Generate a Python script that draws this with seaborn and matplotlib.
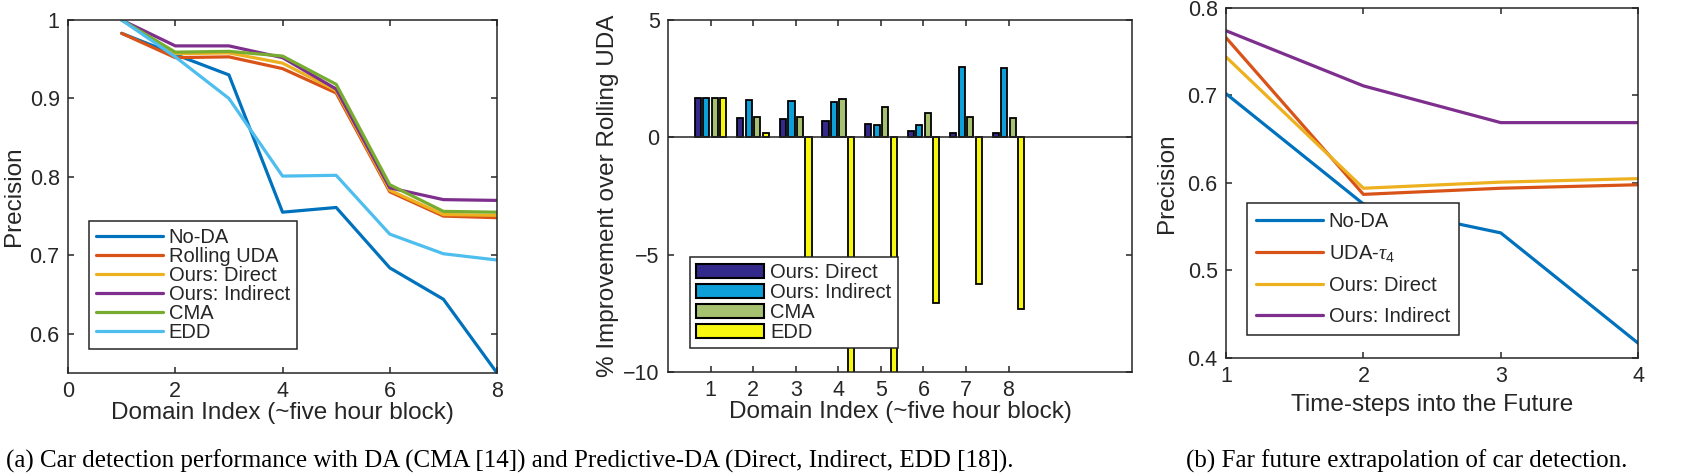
import numpy as np
import pandas as pd
import seaborn as sns
import matplotlib.pyplot as plt

# ---- data ----
domain_idx = [1, 2, 3, 4, 5, 6, 7, 8]
no_da = [0.983, 0.956, 0.930, 0.755, 0.761, 0.684, 0.644, 0.550]
rolling_uda = [0.983, 0.952, 0.953, 0.938, 0.907, 0.781, 0.750, 0.748]
ours_direct = [1.000, 0.957, 0.958, 0.945, 0.910, 0.783, 0.752, 0.751]
ours_indirect = [1.000, 0.967, 0.967, 0.952, 0.912, 0.786, 0.771, 0.770]
cma = [1.000, 0.959, 0.960, 0.954, 0.918, 0.790, 0.756, 0.755]
edd = [1.000, 0.953, 0.900, 0.801, 0.802, 0.727, 0.702, 0.694]

imp_direct = [1.68, 0.81, 0.77, 0.71, 0.58, 0.28, 0.20, 0.20]
imp_indirect = [1.68, 1.60, 1.56, 1.50, 0.51, 0.51, 2.99, 2.95]
imp_cma = [1.68, 0.88, 0.88, 1.64, 1.30, 1.03, 0.88, 0.84]
imp_edd = [1.68, 0.20, -8.0, -12.0, -12.0, -7.08, -6.27, -7.31]

future_steps = [1, 2, 3, 4]
fut_no_da = [0.702, 0.576, 0.543, 0.417]
fut_uda_t4 = [0.766, 0.587, 0.594, 0.598]
fut_direct = [0.744, 0.594, 0.601, 0.605]
fut_indirect = [0.774, 0.711, 0.669, 0.669]

line_names = ['No-DA', 'Rolling UDA', 'Ours: Direct', 'Ours: Indirect', 'CMA', 'EDD']
line_colors = ['#0072BD', '#D95319', '#EDB120', '#7E2F8E', '#77AC30', '#4DBEEE']
bar_names = ['Ours: Direct', 'Ours: Indirect', 'CMA', 'EDD']
bar_colors = ['#33298A', '#0D9FD8', '#A6C170', '#F7F70F']
fut_names = ['No-DA', 'UDA-$\\tau_4$', 'Ours: Direct', 'Ours: Indirect']

sns.set_style("ticks")
plt.rcParams['font.family'] = ['Liberation Sans', 'DejaVu Sans']
plt.rcParams['mathtext.fontset'] = 'custom'
plt.rcParams['mathtext.it'] = 'Liberation Serif:italic'
plt.rcParams['mathtext.rm'] = 'Liberation Sans'
dark = '#262626'
TICK = 15.5
LAB = 17.5
LEG = 14.5

fig = plt.figure(figsize=(17.01, 4.76), dpi=100)
ax1 = fig.add_axes([0.040, 0.2164, 0.2522, 0.7416])
ax2 = fig.add_axes([0.3927, 0.2185, 0.2728, 0.7395])
ax3 = fig.add_axes([0.7208, 0.2479, 0.2422, 0.7353])


def style_axes(ax):
    for sp in ax.spines.values():
        sp.set_visible(True)
        sp.set_color(dark)
        sp.set_linewidth(1.1)
    ax.tick_params(direction='in', length=4, width=1.1, top=True, right=True,
                   labelsize=TICK, colors=dark, pad=6)
    ax.grid(False)


# ---- (a) left: precision per domain ----
df1 = pd.DataFrame({'x': domain_idx * 6,
                    'y': no_da + rolling_uda + ours_direct + ours_indirect + cma + edd,
                    'method': sum([[n] * 8 for n in line_names], [])})
sns.lineplot(data=df1, x='x', y='y', hue='method', hue_order=line_names,
             palette=line_colors, linewidth=2.3, ax=ax1)
ax1.set_xlim(0, 8)
ax1.set_ylim(0.55, 1.0)
ax1.set_xticks([0, 2, 4, 6, 8])
ax1.set_yticks([0.6, 0.7, 0.8, 0.9, 1.0])
ax1.set_yticklabels(['0.6', '0.7', '0.8', '0.9', '1'])
ax1.set_xlabel('Domain Index (~five hour block)', fontsize=LAB, color=dark, labelpad=0)
ax1.set_ylabel('Precision', fontsize=LAB, color=dark, labelpad=3)
style_axes(ax1)
sns.move_legend(ax1, 'lower left', bbox_to_anchor=(0.049, 0.068), title=None,
                fontsize=LEG, frameon=True, fancybox=False, edgecolor=dark,
                framealpha=1, labelspacing=0.0, handlelength=3.3,
                borderpad=0.35, handletextpad=0.3, borderaxespad=0)
ax1.get_legend().get_frame().set_linewidth(1.1)

# ---- (a) middle: improvement over rolling UDA ----
df2 = pd.DataFrame({'x': domain_idx * 4,
                    'y': imp_direct + imp_indirect + imp_cma + imp_edd,
                    'method': sum([[n] * 8 for n in bar_names], [])})
sns.barplot(data=df2, x='x', y='y', hue='method', hue_order=bar_names,
            palette=bar_colors, native_scale=True, width=0.8, gap=0.28,
            edgecolor='black', linewidth=1.3, saturation=1, ax=ax2)
ax2.axhline(0, color=dark, linewidth=1.1, zorder=3)
ax2.set_xlim(0, 10.9)
ax2.set_ylim(-10, 5)
ax2.set_xticks(domain_idx)
ax2.set_yticks([-10, -5, 0, 5])
ax2.set_xlabel('Domain Index (~five hour block)', fontsize=LAB, color=dark, labelpad=0)
ax2.set_ylabel('% Improvement over Rolling UDA', fontsize=LAB, color=dark, labelpad=3)
style_axes(ax2)
sns.move_legend(ax2, 'lower left', bbox_to_anchor=(0.047, 0.068), title=None,
                fontsize=LEG, frameon=True, fancybox=False, edgecolor=dark,
                framealpha=1, labelspacing=0.05, handlelength=3.4, handleheight=0.75,
                borderpad=0.3, handletextpad=0.3, borderaxespad=0)
leg2 = ax2.get_legend()
leg2.get_frame().set_linewidth(1.1)
for p in leg2.get_patches():
    p.set_edgecolor('black')
    p.set_linewidth(1.5)

# ---- (b) far future extrapolation ----
df3 = pd.DataFrame({'x': future_steps * 4,
                    'y': fut_no_da + fut_uda_t4 + fut_direct + fut_indirect,
                    'method': sum([[n] * 4 for n in fut_names], [])})
sns.lineplot(data=df3, x='x', y='y', hue='method', hue_order=fut_names,
             palette=line_colors[:4], linewidth=2.3, ax=ax3)
ax3.set_xlim(1, 4)
ax3.set_ylim(0.4, 0.8)
ax3.set_xticks(future_steps)
ax3.set_yticks([0.4, 0.5, 0.6, 0.7, 0.8])
ax3.set_xlabel('Time-steps into the Future', fontsize=LAB, color=dark, labelpad=5)
ax3.set_ylabel('Precision', fontsize=LAB, color=dark, labelpad=7)
style_axes(ax3)
sns.move_legend(ax3, 'lower left', bbox_to_anchor=(0.051, 0.066), title=None,
                fontsize=LEG, frameon=True, fancybox=False, edgecolor=dark,
                framealpha=1, labelspacing=0.6, handlelength=3.3,
                borderpad=0.45, handletextpad=0.3, borderaxespad=0)
ax3.get_legend().get_frame().set_linewidth(1.1)

# ---- captions ----
cap_font = ['Liberation Serif', 'DejaVu Serif']
fig.text(0.2995, 0.031, '(a) Car detection performance with DA (CMA [14]) and '
         'Predictive-DA (Direct, Indirect, EDD [18]).', ha='center', va='center',
         fontsize=18, family=cap_font, color='black')
fig.text(0.827, 0.031, '(b) Far future extrapolation of car detection.',
         ha='center', va='center', fontsize=18, family=cap_font, color='black')

plt.savefig('out.png', dpi=100)
